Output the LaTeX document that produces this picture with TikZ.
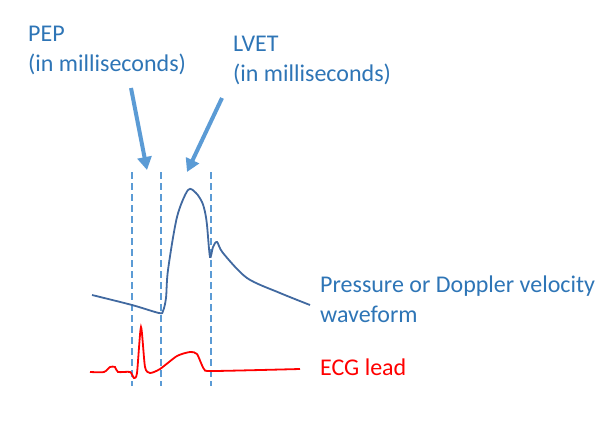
\documentclass[tikz,border=0pt]{standalone}
\usepackage{fontspec}
\setmainfont{Carlito}
\usetikzlibrary{arrows.meta}
\definecolor{dashblue}{RGB}{91,155,213}
\definecolor{wave}{RGB}{65,105,160}
\definecolor{txt}{RGB}{46,117,182}
\tikzset{vline/.style={color=dashblue,line width=2.6pt,dash pattern=on 7pt off 4pt},
 pointer/.style={color=dashblue,line width=4pt,-{Triangle[length=13pt,width=14pt]}},
 lbl/.style={anchor=north west,inner sep=0,align=left,font=\fontsize{24}{30}\selectfont}}
\begin{document}
\begin{tikzpicture}[x=1pt,y=-1pt]
\useasboundingbox (0,0) rectangle (612,428);
\foreach \n/\x in {a/132,b/161,c/211}{\coordinate (\n1) at (\x,172); \coordinate (\n2) at (\x,386); \draw[vline] (\n1)--(\n2);}
\node[lbl,text=txt] (pep) at (28,26) {PEP\\(in milliseconds)};
\node[lbl,text=txt] (lvet) at (233,36) {LVET\\(in milliseconds)};
\node[lbl,text=txt] (pw) at (320,276) {Pressure or Doppler velocity\\waveform};
\node[lbl,text=red] (ecg) at (320,359) {ECG lead};
\coordinate (p1) at (131,88); \coordinate (p2) at (147,170);
\coordinate (l1) at (222,98); \coordinate (l2) at (187,172);
\draw[pointer] (p1)--(p2);
\draw[pointer] (l1)--(l2);
\draw[wave,line width=1.8pt] plot[smooth,tension=0.5] coordinates{(92,295)(132,305)(159,313)(163,311)(166,298)(168,270)(177,217)(188,190)(196,193)(202,202)(205,212)(207,225)(210,257)(213,247)(217,242)(223,253)(247,278)(280,293)(310,305)};
\draw[red,line width=1.8pt] plot[smooth,tension=0.4] coordinates{(90,372)(104,372)(110,367)(115,367)(118,372)(130,372)(134,378)(137,373)(141,327)(145,367)(150,373)(160,369)(177,356)(190,352)(197,354)(204,369)(213,371)(300,369)};
\end{tikzpicture}
\end{document}
